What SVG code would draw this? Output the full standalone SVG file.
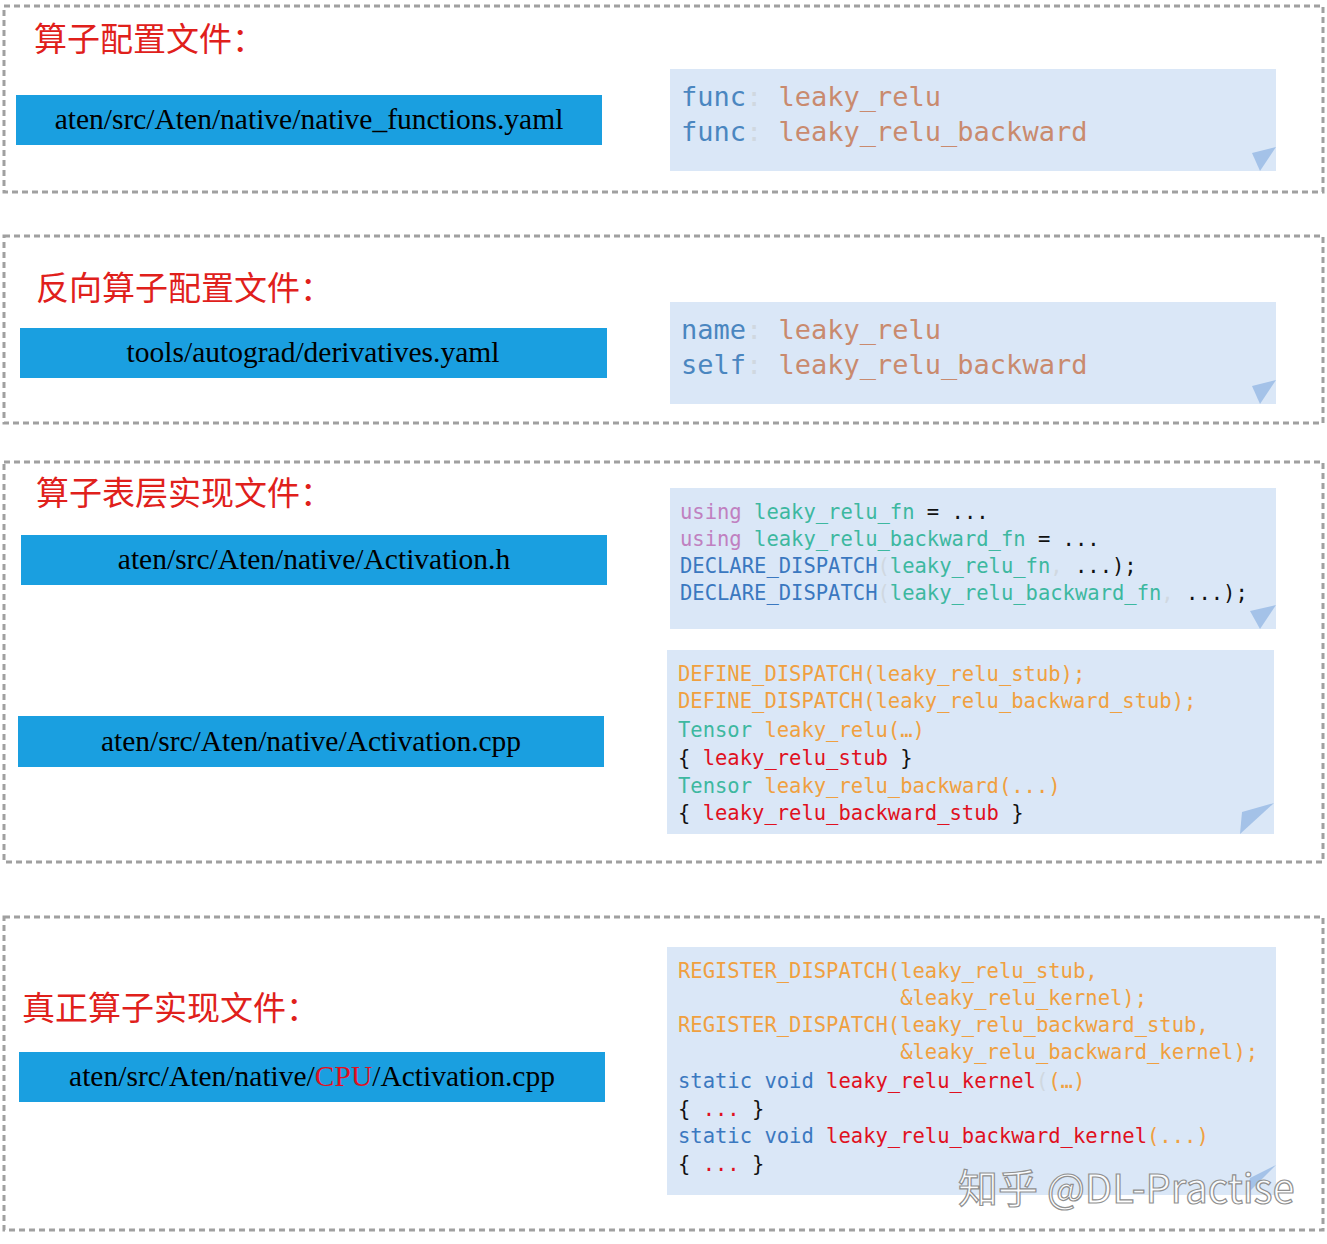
<svg xmlns="http://www.w3.org/2000/svg" width="1327" height="1244" viewBox="0 0 1327 1244">
<style>
.sec{fill:none;stroke:#a0a0a0;stroke-width:3;stroke-dasharray:6,4}
.bar{fill:#1a9fe0}
.bt{font-family:"Liberation Serif",serif;font-size:29.5px;fill:#000;text-anchor:middle}
.tt{font-family:"Noto Sans CJK SC",sans-serif;font-size:33px;fill:#e0201b}
.cb{fill:#dae7f7}
.fold{fill:#a4c2e8}
.m{font-family:"DejaVu Sans Mono",monospace;white-space:pre}
.big{font-size:27px}.sm{font-size:20.5px}
.k{fill:#4a86c0}.p{fill:#c98a6e}.g{fill:#d0d8e0}.u{fill:#c080c0}.t{fill:#3db8a0}.d{fill:#3a78c0}.o{fill:#f0a040}.r{fill:#e01020}.b{fill:#111}
</style>
<rect width="1327" height="1244" fill="#fff"/>
<g id="sec1">
<rect class="sec" x="4" y="6" width="1319" height="186"/>
<text class="tt" x="34" y="51">算子配置文件：</text>
<rect class="bar" x="16" y="95" width="586" height="50"/>
<text class="bt" x="309" y="129">aten/src/Aten/native/native_functions.yaml</text>
<rect class="cb" x="670" y="69" width="606" height="102"/>
<polygon class="fold" points="1276,147 1252,153 1260,171"/>
<text class="m big" x="681" y="106"><tspan class="k">func</tspan><tspan class="g">: </tspan><tspan class="p">leaky_relu</tspan></text>
<text class="m big" x="681" y="141"><tspan class="k">func</tspan><tspan class="g">: </tspan><tspan class="p">leaky_relu_backward</tspan></text>
</g>
<g id="sec2">
<rect class="sec" x="4" y="236" width="1319" height="187"/>
<text class="tt" x="36" y="300">反向算子配置文件：</text>
<rect class="bar" x="20" y="328" width="587" height="50"/>
<text class="bt" x="313" y="362">tools/autograd/derivatives.yaml</text>
<rect class="cb" x="670" y="302" width="606" height="102"/>
<polygon class="fold" points="1276,380 1252,386 1260,404"/>
<text class="m big" x="681" y="339"><tspan class="k">name</tspan><tspan class="g">: </tspan><tspan class="p">leaky_relu</tspan></text>
<text class="m big" x="681" y="374"><tspan class="k">self</tspan><tspan class="g">: </tspan><tspan class="p">leaky_relu_backward</tspan></text>
</g>
<g id="sec3">
<rect class="sec" x="4" y="462" width="1319" height="400"/>
<text class="tt" x="36" y="505">算子表层实现文件：</text>
<rect class="bar" x="21" y="535" width="586" height="50"/>
<text class="bt" x="314" y="569">aten/src/Aten/native/Activation.h</text>
<rect class="bar" x="18" y="716" width="586" height="51"/>
<text class="bt" x="311" y="751">aten/src/Aten/native/Activation.cpp</text>
<rect class="cb" x="670" y="488" width="606" height="141"/>
<polygon class="fold" points="1276,605 1250,611 1260,629"/>
<text class="m sm" x="680" y="519"><tspan class="u">using</tspan> <tspan class="t">leaky_relu_fn</tspan><tspan class="b"> = ...</tspan></text>
<text class="m sm" x="680" y="546"><tspan class="u">using</tspan> <tspan class="t">leaky_relu_backward_fn</tspan><tspan class="b"> = ...</tspan></text>
<text class="m sm" x="680" y="573"><tspan class="d">DECLARE_DISPATCH</tspan><tspan class="g">(</tspan><tspan class="t">leaky_relu_fn</tspan><tspan class="g">, </tspan><tspan class="b">...);</tspan></text>
<text class="m sm" x="680" y="600"><tspan class="d">DECLARE_DISPATCH</tspan><tspan class="g">(</tspan><tspan class="t">leaky_relu_backward_fn</tspan><tspan class="g">, </tspan><tspan class="b">...);</tspan></text>
<rect class="cb" x="667" y="650" width="607" height="184"/>
<polygon class="fold" points="1274,803 1242,812 1240,834"/>
<text class="m sm o" x="678" y="681">DEFINE_DISPATCH(leaky_relu_stub);</text>
<text class="m sm o" x="678" y="708">DEFINE_DISPATCH(leaky_relu_backward_stub);</text>
<text class="m sm" x="678" y="737"><tspan class="t">Tensor</tspan> <tspan class="o">leaky_relu(…)</tspan></text>
<text class="m sm" x="678" y="765"><tspan class="b">{ </tspan><tspan class="r">leaky_relu_stub</tspan><tspan class="b"> }</tspan></text>
<text class="m sm" x="678" y="793"><tspan class="t">Tensor</tspan> <tspan class="o">leaky_relu_backward(...)</tspan></text>
<text class="m sm" x="678" y="820"><tspan class="b">{ </tspan><tspan class="r">leaky_relu_backward_stub</tspan><tspan class="b"> }</tspan></text>
</g>
<g id="sec4">
<rect class="sec" x="4" y="917" width="1319" height="313"/>
<text class="tt" x="22" y="1020">真正算子实现文件：</text>
<rect class="bar" x="19" y="1052" width="586" height="50"/>
<text class="bt" x="312" y="1086">aten/src/Aten/native/<tspan fill="#e01020">CPU</tspan>/Activation.cpp</text>
<rect class="cb" x="667" y="947" width="609" height="248"/>
<polygon class="fold" points="1276,1165 1250,1178 1246,1195"/>
<text class="m sm o" x="678" y="978">REGISTER_DISPATCH(leaky_relu_stub,</text>
<text class="m sm o" x="678" y="1005">                  &amp;leaky_relu_kernel);</text>
<text class="m sm o" x="678" y="1032">REGISTER_DISPATCH(leaky_relu_backward_stub,</text>
<text class="m sm o" x="678" y="1059">                  &amp;leaky_relu_backward_kernel);</text>
<text class="m sm" x="678" y="1088"><tspan class="d">static void</tspan> <tspan class="r">leaky_relu_kernel</tspan><tspan class="g">(</tspan><tspan class="o">(…)</tspan></text>
<text class="m sm" x="678" y="1116"><tspan class="b">{ </tspan><tspan class="r">...</tspan><tspan class="b"> }</tspan></text>
<text class="m sm" x="678" y="1143"><tspan class="d">static void</tspan> <tspan class="r">leaky_relu_backward_kernel</tspan><tspan class="o">(...)</tspan></text>
<text class="m sm" x="678" y="1171"><tspan class="b">{ </tspan><tspan class="r">...</tspan><tspan class="b"> }</tspan></text>
<text x="958" y="1203" font-family="Noto Sans CJK SC,sans-serif" font-size="40" fill="#ffffff" fill-opacity="0.85" stroke="#909090" stroke-width="1.2">知乎 @DL-Practise</text>
</g>
</svg>
